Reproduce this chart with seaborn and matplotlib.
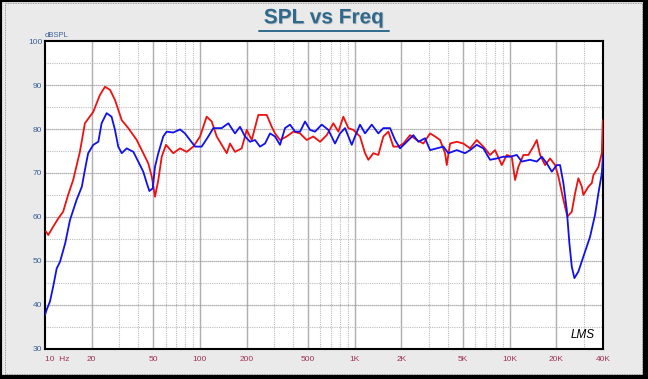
import matplotlib
matplotlib.use("Agg")
import matplotlib.pyplot as plt
import matplotlib.patheffects as pe
from matplotlib.lines import Line2D
from matplotlib.patches import Rectangle
import seaborn as sns
import pandas as pd

# measured response, red trace
red_freq = [10.15, 10.5, 11.3, 12.2, 13.1, 14.1, 15.2, 16.8, 18.1, 20.5, 22.6, 24.4, 26.3, 28.3,
            31.3, 34.5, 39.1, 43.1, 46.4, 48.9, 51.3, 53.9, 56.7, 60.4, 67.3, 74.4, 82.2, 90.7,
            100.2, 110.6, 119.2, 128.4, 138.3, 149, 156.5, 168.5, 186.1, 200.5, 216, 238.3, 270,
            290.8, 305.4, 329, 363.4, 400.9, 443, 489, 539.7, 596.3, 658.6, 726.6, 782.7, 843.1,
            908.1, 978.1, 1080, 1164, 1223, 1317, 1418, 1528, 1646, 1773, 1910, 2057, 2272,
            2510, 2769, 3059, 3295, 3549, 3823, 3921, 4118, 4549, 5017, 5543, 6124, 6753, 7463,
            8040, 8882, 9566, 10304, 10822, 11365, 12242, 13188, 14207, 14941, 15692, 16904,
            18210, 19616, 20602, 22194, 23550, 25142, 26408, 27733, 29174, 29874, 32180, 33852,
            34663, 37345, 39279, 39870]
red_db = [56.7, 55.9, 57.8, 59.7, 61.2, 65.0, 68.4, 74.8, 81.3, 83.9, 87.7, 89.6, 88.9, 86.6,
          82.0, 80.2, 77.5, 74.5, 72.2, 69.2, 64.6, 68.4, 73.7, 76.4, 74.5, 75.6, 74.8, 76.0,
          78.3, 82.8, 81.7, 78.3, 76.4, 74.5, 76.7, 74.8, 75.6, 79.8, 77.5, 83.2, 83.2,
          80.5, 79.0, 77.5, 78.3, 79.4, 79.0, 77.5, 78.3, 77.1, 78.6, 81.3, 79.4, 82.8,
          80.2, 79.8, 78.3, 74.5, 73.0, 74.5, 74.1, 78.3, 79.4, 76.0, 76.0, 76.7, 78.6,
          77.5, 76.7, 79.0, 78.3, 77.5, 74.5, 71.8, 76.7, 77.1, 76.7, 75.6, 77.5, 76.0, 74.1,
          75.2, 71.8, 74.1, 73.7, 68.4, 71.4, 74.1, 74.1, 76.0, 77.5, 74.1, 71.8,
          73.3, 71.8, 69.2, 63.9, 60.1, 61.2, 65.4, 68.8, 66.9, 65.0, 66.9, 67.7,
          69.5, 71.4, 74.5, 82.0]

# measured response, blue trace
blue_freq = [10.0, 10.25, 10.77, 11.3, 11.9, 12.5, 13.5, 14.5, 16.0, 17.3, 18.1, 19.0, 20.5,
             22.1, 23.2, 25.0, 26.9, 28.3, 29.7, 31.3, 33.7, 37.2, 40.0, 43.1, 45.4, 47.2,
             49.6, 51.3, 53.9, 58.0, 61.0, 67.3, 74.4, 80.1, 86.3, 93.0, 102.7, 113.3, 122.1,
             138.3, 152.6, 168.5, 181.5, 195.5, 210.7, 226.9, 244.3, 263.3, 283.5, 305.4, 329,
             354.3, 381.7, 411.2, 443, 477.1, 513.9, 553.5, 611.5, 674.5, 745.2, 802.6, 864.7,
             955.2, 1003, 1080, 1164, 1286, 1418, 1528, 1688, 1818, 1958, 2110, 2387, 2571,
             2840, 3059, 3379, 3727, 4015, 4549, 5145, 5543, 6124, 6753, 7463, 8247, 9096,
             10047, 11099, 11955, 13527, 14941, 16096, 17338, 18678, 20118, 21128, 22194,
             23340, 24266, 25142, 26140, 27733, 29874, 32981, 35530, 37345, 39279, 40000]
blue_db = [37.7, 38.9, 40.8, 44.2, 48.3, 49.8, 54.0, 59.3, 63.9, 66.9, 70.7, 74.5, 76.4,
           77.1, 81.3, 83.6, 82.8, 79.8, 76.0, 74.5, 75.6, 74.8, 72.6, 70.3, 67.7, 65.9,
           66.5, 71.4, 74.5, 78.3, 79.4, 79.2, 79.9, 79.0, 77.5, 76.0, 76.0, 78.3, 80.2,
           80.2, 81.3, 79.0, 80.5, 78.3, 77.1, 77.5, 76.0, 76.7, 79.0, 78.3, 76.4,
           80.2, 81.0, 79.4, 79.4, 81.7, 79.8, 79.4, 81.0, 79.8, 76.7, 79.0, 80.2,
           76.4, 78.3, 81.0, 79.0, 81.0, 79.0, 80.2, 80.2, 77.5, 75.6, 76.7, 78.6, 77.1,
           77.9, 75.2, 75.6, 76.0, 74.5, 75.2, 74.5, 75.2, 76.4, 75.6, 73.0, 73.3, 73.7,
           73.7, 74.1, 72.6, 73.0, 72.6, 73.7, 72.2, 70.3, 71.8, 71.8, 67.7,
           61.6, 54.0, 48.7, 46.1, 47.6, 51.0, 55.5, 60.5, 65.4, 69.9, 74.1]

x_ticks = [10, 20, 50, 100, 200, 500, 1000, 2000, 5000, 10000, 20000, 40000]
x_labels = ["10  Hz", "20", "50", "100", "200", "500", "1K", "2K", "5K", "10K", "20K", "40K"]
y_ticks = [30, 40, 50, 60, 70, 80, 90, 100]

df = pd.concat([
    pd.DataFrame({"freq": red_freq, "spl": red_db, "trace": "red"}),
    pd.DataFrame({"freq": blue_freq, "spl": blue_db, "trace": "blue"}),
])

sns.set_theme(style="white")
plt.rcParams["font.family"] = ["Liberation Sans", "DejaVu Sans"]

fig = plt.figure(figsize=(6.48, 3.79), dpi=100, facecolor="#eaeaea")
ax = fig.add_axes([0.0694, 0.0792, 0.8612, 0.8126])
ax.set_facecolor("white")
ax.set_xscale("log")

# grid: minor every 5 dB / every decade step, major on 10 dB and 1-2-5
minor_x = [m * 10 ** d for d in range(1, 5) for m in range(1, 10) if m * 10 ** d <= 40000]
for f in minor_x:
    ax.axvline(f, color="#bdbdbd", lw=0.8, ls=(0, (1, 1)), zorder=0)
for f in x_ticks[1:-1]:
    ax.axvline(f, color="#b0b0b0", lw=1.0, zorder=0)
for v in range(35, 100, 10):
    ax.axhline(v, color="#bdbdbd", lw=0.8, ls=(0, (1, 1)), zorder=0)
for v in y_ticks[1:-1]:
    ax.axhline(v, color="#9a9a9a", lw=0.9, ls=(0, (1, 0.6)), zorder=0)

sns.lineplot(data=df, x="freq", y="spl", hue="trace", hue_order=["red", "blue"],
             palette={"red": "#ee1111", "blue": "#1111ee"}, estimator=None,
             sort=False, lw=1.3, legend=False, ax=ax, zorder=3)

ax.set_xlim(10, 40000)
ax.set_ylim(30, 100)
ax.set_xticks(x_ticks)
ax.set_xticklabels(x_labels)
ax.xaxis.set_minor_locator(matplotlib.ticker.NullLocator())
ax.set_yticks(y_ticks)
ax.tick_params(axis="x", length=0, pad=5, labelsize=6, labelcolor="#a0305a")
ax.tick_params(axis="y", length=0, pad=2, labelsize=6, labelcolor="#3a5f9a")
ax.get_xticklabels()[0].set_horizontalalignment("left")
ax.set_xlabel("")
ax.set_ylabel("")
for s in ax.spines.values():
    s.set_color("black")
    s.set_linewidth(1.5)

ax.text(0.0, 1.005, "dBSPL", transform=ax.transAxes, fontsize=5.5, color="#3a5f9a",
        ha="left", va="bottom")
ax.text(0.985, 0.025, "LMS", transform=ax.transAxes, fontsize=8.5, style="italic",
        color="black", ha="right", va="bottom")

title_color = "#2f6a8c"
fig.text(0.5, 0.953, "SPL vs Freq", ha="center", va="center", fontsize=15,
         fontweight="bold", color=title_color,
         path_effects=[pe.withSimplePatchShadow(offset=(0.6, -0.6),
                                               shadow_rgbFace="#666666", alpha=0.35)])
# underline below the title
fig.add_artist(Line2D([0.399, 0.601], [0.917, 0.917], color=title_color, lw=1.4,
                      transform=fig.transFigure))

# frame around the figure
fig.add_artist(Rectangle((0.008, 0.013), 0.982, 0.98, transform=fig.transFigure,
                         fill=False, ec="#888888", lw=0.6, ls=(0, (1, 1))))
fig.add_artist(Rectangle((0, 0), 1, 1, transform=fig.transFigure, fill=False,
                         ec="black", lw=3))
fig.add_artist(Line2D([0.995, 0.995], [0, 1], color="black", lw=3, transform=fig.transFigure))
fig.add_artist(Line2D([0, 1], [0.006, 0.006], color="black", lw=3, transform=fig.transFigure))

fig.savefig("out.png", dpi=100, facecolor=fig.get_facecolor())
